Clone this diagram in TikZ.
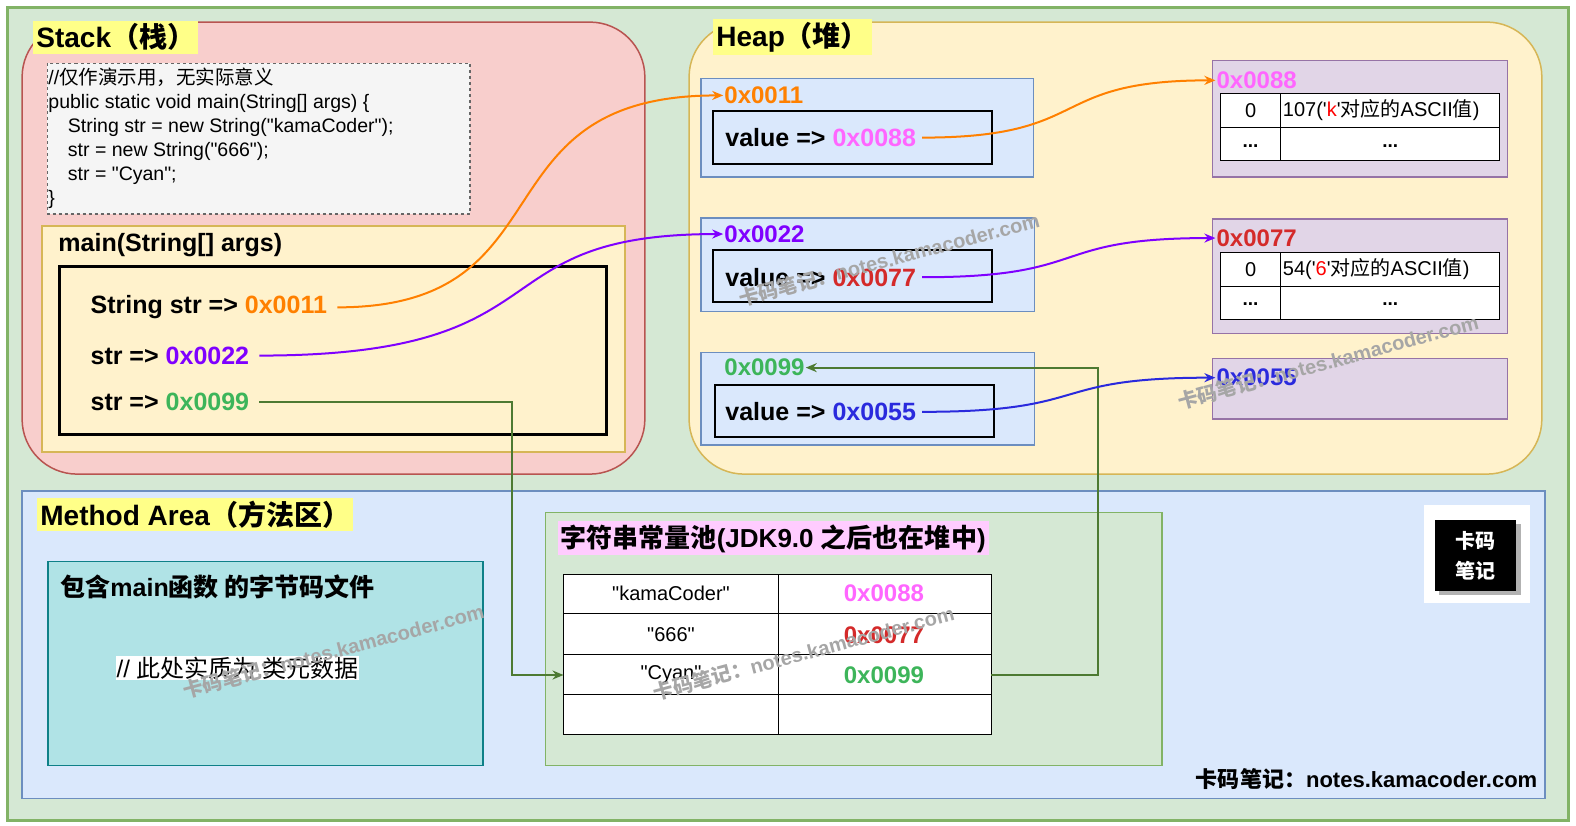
\documentclass[tikz,border=0pt]{standalone}
\usepackage{fontspec}
\setmainfont{Liberation Sans}
\newfontfamily\cjkf{Noto Sans CJK SC}
\newcommand{\zh}[1]{{\cjkf #1}}
\newcommand{\dq}{\textquotedbl}
\newcommand{\sq}{\textquotesingle}
\usetikzlibrary{arrows.meta}
\definecolor{gbg}{HTML}{D5E8D4}\definecolor{gbd}{HTML}{82B366}
\definecolor{rbg}{HTML}{F8CECC}\definecolor{rbd}{HTML}{B85450}
\definecolor{ybg}{HTML}{FFF2CC}\definecolor{ybd}{HTML}{D6B656}
\definecolor{bbg}{HTML}{DAE8FC}\definecolor{bbd}{HTML}{6C8EBF}
\definecolor{pbg}{HTML}{E1D5E7}\definecolor{pbd}{HTML}{9673A6}
\definecolor{tbg}{HTML}{B0E3E6}\definecolor{tbd}{HTML}{0E8088}
\definecolor{cor}{HTML}{FF8000}\definecolor{cpu}{HTML}{7F00FF}
\definecolor{cgr}{HTML}{3DB55A}\definecolor{cpk}{HTML}{FF66FF}
\definecolor{crd}{HTML}{D42A2A}\definecolor{cbl}{HTML}{2A2ADD}
\definecolor{lgr}{HTML}{4D7A32}\definecolor{hl}{HTML}{FFFF88}\definecolor{pk}{HTML}{FFCCFF}
\tikzset{
 lbl/.style={anchor=west,inner sep=2pt,font=\fontsize{25}{27}\selectfont\bfseries},
 title/.style={anchor=west,fill=hl,inner sep=3pt,font=\fontsize{28}{30}\selectfont\bfseries},
 addr/.style={anchor=west,inner sep=1pt,font=\fontsize{24}{26}\selectfont\bfseries},
 cell/.style={font=\fontsize{20}{22}\selectfont,inner sep=1pt},
 wm/.style={rotate=15,text=black!35,font=\fontsize{20}{22}\selectfont\bfseries},
 conn/.style={line width=2pt,-{Stealth[length=11pt,width=9pt]}},
}
\begin{document}
\begin{tikzpicture}[x=1bp,y=-1bp]
\useasboundingbox (0,0) rectangle (1569,822);
\fill[white] (0,0) rectangle (1569,822);
\draw[fill=gbg,draw=gbd,line width=3pt] (7,7) rectangle (1562,817);
% Stack
\draw[fill=rbg,draw=rbd,line width=1.5pt,rounded corners=55pt] (22,22) rectangle (642,472);
\node[title] (stk) at (33,37) {Stack\zh{（栈）}};
\draw[fill=black!4,draw=black!60,dashed,line width=1.2pt] (47,63) rectangle (468,213);
\node[anchor=north west,align=left,inner sep=0pt,font=\fontsize{19.5}{24}\selectfont] (code) at (48,67) {%
//\zh{仅作演示用，无实际意义}\\public static void main(String[] args) \{\\
\quad String str = new String(\dq kamaCoder\dq);\\\quad str = new String(\dq 666\dq);\\\quad str = \dq Cyan\dq;\\\}};
\draw[fill=ybg,draw=ybd,line width=1.5pt] (42,225) rectangle (622,450);
\node[lbl] (mainl) at (56,244) {main(String[] args)};
\draw[line width=3pt] (59,265) rectangle (604,433);
\node[lbl] (s1) at (88,306) {String str => \textcolor{cor}{0x0011}};
\node[lbl] (s2) at (88,354) {str => \textcolor{cpu}{0x0022}};
\node[lbl] (s3) at (88,400) {str => \textcolor{cgr}{0x0099}};
% Heap
\draw[fill=ybg,draw=ybd,line width=1.5pt,rounded corners=55pt] (686,22) rectangle (1535,472);
\node[title] (hp) at (710,37) {Heap\zh{（堆）}};
\foreach \a/\b/\c/\d in {698/78/1029/176,698/217/1030/310,698/351/1030/443}
  \draw[fill=bbg,draw=bbd,line width=1.5pt] (\a,\b) rectangle (\c,\d);
\draw[line width=2pt] (710,111) rectangle (988,163);
\draw[line width=2pt] (710,249) rectangle (988,301);
\draw[line width=2pt] (712,383) rectangle (990,435);
\node[addr,text=cor] (h1) at (720,95) {0x0011};
\node[addr,text=cpu] (h2) at (720,233) {0x0022};
\node[addr,text=cgr] (h3) at (720,366) {0x0099};
\node[lbl] (v1) at (720,137) {value => \textcolor{cpk}{0x0088}};
\node[lbl] (v2) at (720,276) {value => \textcolor{crd}{0x0077}};
\node[lbl] (v3) at (720,410) {value => \textcolor{cbl}{0x0055}};
\foreach \a/\b/\c/\d in {1207/60/1501/176,1207/218/1501/332,1207/357/1501/417}
  \draw[fill=pbg,draw=pbd,line width=1.5pt] (\a,\b) rectangle (\c,\d);
\node[addr,text=cpk] (o1) at (1210,80) {0x0088};
\node[addr,text=crd] (o2) at (1210,237) {0x0077};
\node[addr,text=cbl] (o3) at (1210,376) {0x0055};
\draw[fill=white,line width=1pt] (1215,93) rectangle (1493,160) (1275,93)--(1275,160) (1215,127)--(1493,127);
\draw[fill=white,line width=1pt] (1215,251) rectangle (1493,318) (1275,251)--(1275,318) (1215,285)--(1493,285);
\node[cell] (c11) at (1245,110) {0};
\node[cell,anchor=west] (c12) at (1276,110) {107(\sq\textcolor{red}{k}\sq\zh{对应的}ASCII\zh{值})};
\node[cell,font=\fontsize{19}{21}\selectfont\bfseries] (c13) at (1245,145) {...};
\node[cell,font=\fontsize{19}{21}\selectfont\bfseries] (c14) at (1384,145) {...};
\node[cell] (c21) at (1245,268) {0};
\node[cell,anchor=west] (c22) at (1276,268) {54(\sq\textcolor{red}{6}\sq\zh{对应的}ASCII\zh{值})};
\node[cell,font=\fontsize{19}{21}\selectfont\bfseries] (c23) at (1245,303) {...};
\node[cell,font=\fontsize{19}{21}\selectfont\bfseries] (c24) at (1384,303) {...};
% Method area
\draw[fill=bbg,draw=bbd,line width=1.5pt] (22,489) rectangle (1538,795);
\node[title] (ma) at (37,512) {Method Area\zh{（方法区）}};
\draw[fill=tbg,draw=tbd,line width=1.5pt] (48,559) rectangle (481,762);
\node[lbl] (bc) at (58,584) {\zh{包含}main\zh{函数 的字节码文件}};
\node[anchor=west,fill=white,inner sep=1pt,font=\fontsize{24}{26}\selectfont] (meta) at (115,665) {// \zh{此处实质为 类元数据}};
\draw[fill=gbg,draw=gbd,line width=1.5pt] (543,510) rectangle (1157,762);
\node[lbl,fill=pk,inner sep=3pt,font=\fontsize{26}{28}\selectfont\bfseries] (sp) at (555,536) {\zh{字符串常量池}(JDK9.0 \zh{之后也在堆中})};
\draw[fill=white,line width=1pt] (561,572) rectangle (987,731) (775,572)--(775,731)
  (561,611)--(987,611) (561,652)--(987,652) (561,691)--(987,691);
\node[cell] (k1) at (668,591) {\dq kamaCoder\dq};
\node[cell] (k2) at (668,632) {\dq 666\dq};
\node[cell] (k3) at (668,672) {\dq Cyan\dq};
\node[addr,anchor=center,text=cpk] (a1) at (880,591) {0x0088};
\node[addr,anchor=center,text=crd] (a2) at (880,632) {0x0077};
\node[addr,anchor=center,text=cgr] (a3) at (880,672) {0x0099};
\coordinate (p3l) at (561,672); \coordinate (p3r) at (987,672);
% logo
\fill[white] (1418,503) rectangle (1523,600);
\fill[black!30] (1433,522) rectangle (1514,592);
\node[fill=black,minimum width=80bp,minimum height=70bp,text=white,align=center,font=\fontsize{20}{30}\selectfont\bfseries] (logo) at (1469,553) {\zh{卡码}\\\zh{笔记}};
\node[anchor=east,font=\fontsize{22}{24}\selectfont\bfseries] (ft) at (1534,776) {\zh{卡码笔记：}notes.kamacoder.com};
% watermarks
\node[wm] (w1) at (885,258) {\zh{卡码笔记：}notes.kamacoder.com};
\node[wm] (w2) at (1322,360) {\zh{卡码笔记：}notes.kamacoder.com};
\node[wm] (w3) at (332,648) {\zh{卡码笔记：}notes.kamacoder.com};
\node[wm] (w4) at (800,650) {\zh{卡码笔记：}notes.kamacoder.com};
% connectors
\draw[conn,cor] (s1.east)++(8,0) .. controls (570,306) and (470,95) .. (h1.west);
\draw[conn,cpu] (s2.east)++(8,0) .. controls (570,354) and (470,233) .. (h2.west);
\draw[conn,lgr] (s3.east)++(8,0) -| (510,672) -- (p3l);
\draw[conn,lgr] (p3r) -| (1093,366) -- (h3.east);
\draw[conn,cor] (v1.east)++(4,0) .. controls (1090,137) and (1040,80) .. (o1.west);
\draw[conn,cpu] (v2.east)++(4,0) .. controls (1090,276) and (1040,237) .. (o2.west);
\draw[conn,cbl] (v3.east)++(4,0) .. controls (1090,410) and (1040,376) .. (o3.west);
\end{tikzpicture}
\end{document}
